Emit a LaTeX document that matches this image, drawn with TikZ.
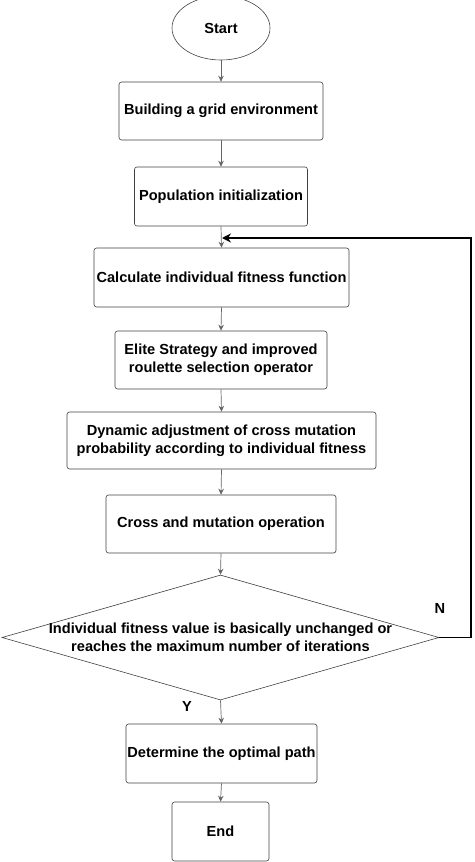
\documentclass[tikz,border=0pt]{standalone}
\usepackage{fontspec}
\setmainfont{Liberation Sans}
\usetikzlibrary{arrows.meta,shapes.geometric,positioning}

\newcommand{\flowfont}{\fontsize{14.6}{18}\selectfont\bfseries}
\tikzset{
  stepbox/.style={draw=black!75, line width=0.6pt, rounded corners=2.5pt, inner sep=0pt, align=center, font=\flowfont},
  flowarrow/.style={draw=black!60, line width=0.7pt, -{Stealth[length=6pt,width=5.5pt]}},
  looparrow/.style={draw=black, line width=1.8pt, -{Stealth[length=9pt,width=9pt]}},
}

\begin{document}
\begin{tikzpicture}[x=1pt,y=-1pt]
\useasboundingbox (0,0) rectangle (474,862);
%the steps
\node[ellipse, draw=black!75, line width=0.6pt, minimum width=98pt, minimum height=64pt, inner sep=0pt, font=\flowfont] (START) at (221,28) {Start};
\node[stepbox, minimum width=204pt, minimum height=58pt] (GRID) at (221,111) {Building a grid environment};
\node[stepbox, minimum width=173pt, minimum height=59pt] (POP) at (221,196.5) {Population initialization};
\node[stepbox, minimum width=255pt, minimum height=59pt] (FIT) at (221.5,277.5) {Calculate individual fitness function};
\node[stepbox, minimum width=212pt, minimum height=58pt] (ELITE) at (221,360) {Elite Strategy and improved\\roulette selection operator};
\node[stepbox, minimum width=309pt, minimum height=57pt] (DYN) at (221.5,440.5) {Dynamic adjustment of cross mutation\\probability according to individual fitness};
\node[stepbox, minimum width=230pt, minimum height=58pt] (CROSS) at (221,524) {Cross and mutation operation};
%the decision
\node[diamond, draw=black!75, line width=0.6pt, minimum width=437pt, minimum height=125pt, inner sep=0pt] (DEC) at (220.5,637.5) {};
\node[align=center, font=\flowfont, inner sep=0pt] (DECTEXT) at (DEC) {Individual fitness value is basically unchanged or\\reaches the maximum number of iterations};
\node[stepbox, minimum width=191pt, minimum height=59pt] (PATH) at (221.5,753.5) {Determine the optimal path};
\node[stepbox, minimum width=97pt, minimum height=59pt] (END) at (220.5,831.5) {End};
%arrows
\foreach \a/\b in {START/GRID,GRID/POP,POP/FIT,FIT/ELITE,ELITE/DYN,DYN/CROSS,CROSS/DEC,DEC/PATH,PATH/END} {
  \draw[flowarrow] (\a.south) -- (\b.north);
}
%loop back
\coordinate (LOOPB) at (471,637.5);
\coordinate (LOOPT) at (471,238);
\coordinate (LOOPIN) at (222,238);
\draw[looparrow] (DEC.east) -- (LOOPB) -- (LOOPT) -- (LOOPIN);
%labels
\node[font=\flowfont] (NLAB) at (440,608) {N};
\node[font=\flowfont] (YLAB) at (187,706) {Y};
\end{tikzpicture}
\end{document}
